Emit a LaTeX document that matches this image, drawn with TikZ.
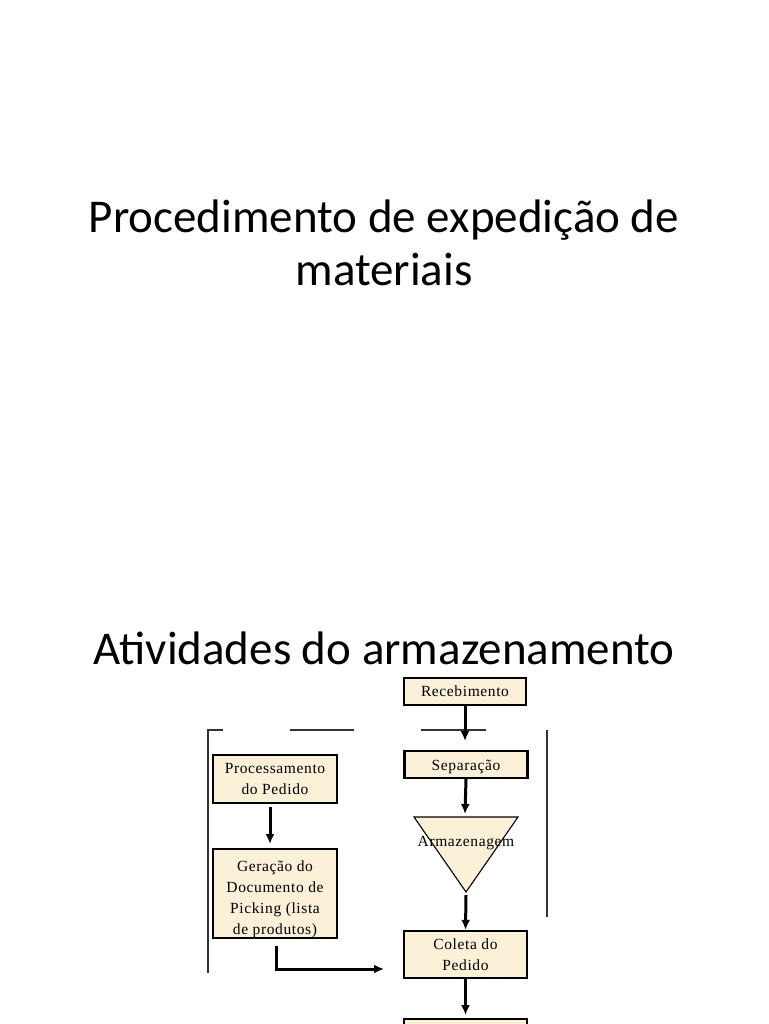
\documentclass[tikz,border=0pt]{standalone}
\usepackage{fontspec}
\setmainfont{Liberation Serif}
\newfontfamily\boxfont[LetterSpace=4]{Liberation Serif}
\newfontfamily\titlefont{Carlito}
\usetikzlibrary{arrows.meta}
\definecolor{boxfill}{HTML}{FBF0D8}
\tikzset{
  box/.style={draw=black, line width=2.2pt, fill=boxfill, inner sep=0pt, font=\boxfont\fontsize{15.5}{20.5}\selectfont, align=center},
  boxtxt/.style={inner sep=0pt, font=\boxfont\fontsize{15.5}{21}\selectfont, align=center},
  arr/.style={line width=3pt, -{Latex[length=10pt,width=9pt]}},
  frame/.style={line width=1.4pt, draw=black!80},
  title/.style={font=\titlefont\fontsize{47}{53}\selectfont, align=center}
}
\begin{document}
\begin{tikzpicture}[x=1pt,y=-1pt]
\useasboundingbox (0,0) rectangle (768,1024);
\clip (0,0) rectangle (768,1024);
\fill[white] (0,0) rectangle (768,1024);
% titles
\node[title] (t1) at (384,243) {Procedimento de expedição de\\materiais};
\node[title] (t2) at (384,648) {Atividades do armazenamento};
% frame lines
\draw[frame] (223,730) -- (208,730) -- (208,973);
\draw[frame] (290,730) -- (354,730);
\draw[frame] (421,730) -- (486,730);
\draw[frame] (547,730) -- (547,917);
% boxes
\node[box, minimum width=122pt, minimum height=27pt] (rec) at (465,691.5) {Recebimento};
\node[box, minimum width=123pt, minimum height=27pt] (sep) at (466,764.5) {};
\node[boxtxt] (septxt) at ([yshift=-2.5pt]sep.center) {Separação};
\node[box, minimum width=124pt, minimum height=48pt] (proc) at (275,779) {Processamento\\do Pedido};
\node[box, minimum width=124pt, minimum height=89pt] (ger) at (275,893.5) {};
\node[boxtxt] (gertxt) at ([yshift=-6pt]ger.center) {Geração do\\Documento de\\Picking (lista\\de produtos)};
\node[box, minimum width=123pt, minimum height=47pt] (col) at (465.5,954.5) {Coleta do\\Pedido};
\node[box, minimum width=123pt, minimum height=40pt] (last) at (465.5,1039) {};
% triangle
\draw[line width=1.1pt, fill=boxfill] (414,817) coordinate (ta) -- (518,817) coordinate (tb) -- (466,892) coordinate (tc) -- cycle;
\node[font=\boxfont\fontsize{15.5}{18}\selectfont] (arm) at (466,843) {Armazenagem};
% arrows
\coordinate (a1) at (465,741);
\draw[arr] (rec.south) -- (a1);
\coordinate (a2) at (465,814);
\draw[arr] (sep.south) -- (a2);
\coordinate (a3s) at (466,895);
\draw[arr] (a3s) -- (col.north);
\draw[arr] (col.south) -- (465.5,1015);
\coordinate (a4) at (270,844);
\draw[arr] (270,807) -- (a4);
\coordinate (e1) at (276,946);
\coordinate (e2) at (384,969);
\draw[arr] (e1) |- (e2);
\end{tikzpicture}
\end{document}
